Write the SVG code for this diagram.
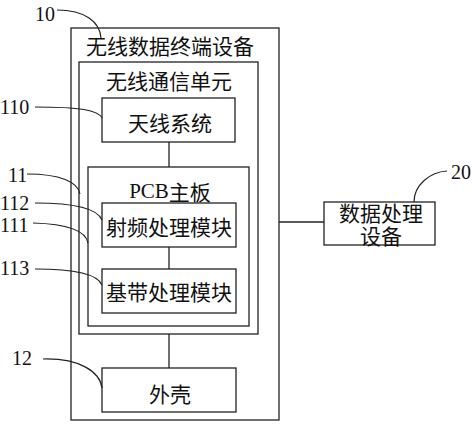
<svg xmlns="http://www.w3.org/2000/svg" width="474" height="430" viewBox="0 0 474 430">
<style>
.box{fill:none;stroke:#222;stroke-width:1.3}
.ln{fill:none;stroke:#222;stroke-width:1.3}
.ld{fill:none;stroke:#222;stroke-width:1.2}
.cn{font-family:"Noto Sans CJK SC","Noto Sans",sans-serif;font-size:21px;fill:#111;text-anchor:middle;dominant-baseline:central}
.num{font-family:"Liberation Serif","Times New Roman",serif;font-size:20px;fill:#111;dominant-baseline:central}
</style>
<rect width="474" height="430" fill="#fff"/>
<g id="n10">
<rect class="box" x="71" y="28" width="208" height="392"/>
<text class="cn" x="170" y="45">无线数据终端设备</text>
</g>
<g id="n11">
<rect class="box" x="79" y="62" width="179" height="272"/>
<text class="cn" x="169" y="80">无线通信单元</text>
</g>
<g id="n110">
<rect class="box" x="102" y="98" width="133" height="44"/>
<text class="cn" x="170" y="122">天线系统</text>
</g>
<g id="n111">
<rect class="box" x="88" y="167" width="161" height="159"/>
<text class="cn" x="170" y="191"><tspan font-family="Liberation Serif,serif">PCB</tspan>主板</text>
</g>
<g id="n112">
<rect class="box" x="102" y="203" width="134" height="44"/>
<text class="cn" x="169" y="226">射频处理模块</text>
</g>
<g id="n113">
<rect class="box" x="102" y="269" width="134" height="44"/>
<text class="cn" x="169" y="291">基带处理模块</text>
</g>
<g id="n12">
<rect class="box" x="102" y="368" width="134" height="44"/>
<text class="cn" x="170" y="393">外壳</text>
</g>
<g id="n20">
<rect class="box" x="324" y="202" width="111" height="43"/>
<text class="cn" x="381" y="212" font-size="19">数据处理</text>
<text class="cn" x="381" y="235" font-size="19">设备</text>
</g>
<g id="connectors">
<line class="ln" x1="169" y1="142" x2="169" y2="167"/>
<line class="ln" x1="169" y1="247" x2="169" y2="269"/>
<line class="ln" x1="169" y1="334" x2="169" y2="368"/>
<line class="ln" x1="279" y1="222" x2="324" y2="222"/>
</g>
<g id="labels">
<text class="num" x="35" y="14">10</text>
<path class="ld" d="M57,10 C85,10 100,22 101,38"/>
<text class="num" x="0" y="107">110</text>
<path class="ld" d="M35,107 C80,107 98,110 102,118"/>
<text class="num" x="8" y="175">11</text>
<path class="ld" d="M27,174 C60,174 78,182 80,194"/>
<text class="num" x="0" y="203">112</text>
<path class="ld" d="M35,203 C80,203 98,210 102,220"/>
<text class="num" x="0" y="225">111</text>
<path class="ld" d="M33,223 C70,224 86,232 88,243"/>
<text class="num" x="0" y="268">113</text>
<path class="ld" d="M35,269 C80,269 98,275 102,285"/>
<text class="num" x="12" y="358">12</text>
<path class="ld" d="M43,359 C80,358 100,372 102,388"/>
<text class="num" x="451" y="172">20</text>
<path class="ld" d="M414,202 C414,185 430,172 447,171"/>
</g>
</svg>
